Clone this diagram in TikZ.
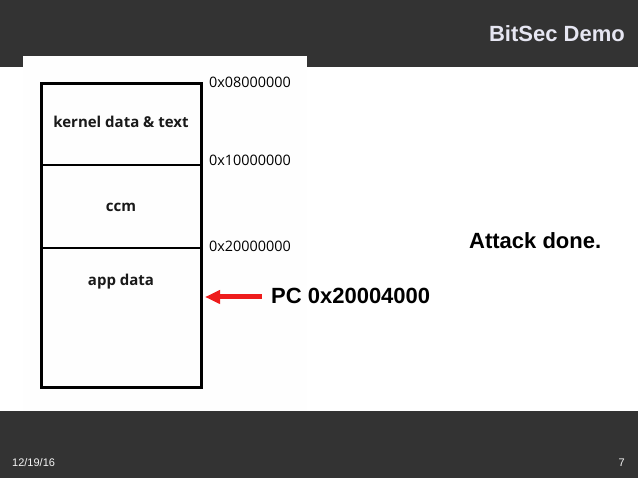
\documentclass[tikz,border=0pt]{standalone}
\usepackage{fontspec}
\setmainfont{Liberation Sans}
\newfontfamily\osans{Open Sans}
\usetikzlibrary{arrows.meta}
\definecolor{barc}{HTML}{333333}
\definecolor{titlec}{HTML}{E6E6F2}
\definecolor{arrowc}{HTML}{EE1C1C}
\tikzset{
  addr/.style={font=\osans\fontsize{14.4}{16}\selectfont, anchor=base west, inner sep=0pt, text=black},
  region/.style={font=\osans\bfseries\fontsize{15}{17}\selectfont, anchor=base, inner sep=0pt, text=black!90},
  bigtxt/.style={font=\bfseries\fontsize{22}{26}\selectfont, inner sep=0pt, text=black},
  foot/.style={font=\fontsize{11}{13}\selectfont, inner sep=0pt, text=white!92!gray},
}
\begin{document}
\begin{tikzpicture}[x=1pt,y=-1pt]
\useasboundingbox (0,0) rectangle (638,478);
\fill[white] (0,0) rectangle (638,478);
% bars
\fill[barc] (0,0) rectangle (638,67);
\fill[barc] (0,411) rectangle (638,478);
% image area
\fill[white!99.5!black] (23,56) rectangle (307,411);
% memory box
\draw[line width=1.5pt] (41,165) -- (201,165);
\draw[line width=1.5pt] (41,248) -- (201,248);
\draw[line width=3pt] (41,84) rectangle (201,388);
\node[region] (kern) at (121,128) {kernel data \& text};
\node[region] (ccm) at (121,212) {ccm};
\node[region] (app) at (121,286) {app data};
\node[addr] (a1) at (209,88) {0x08000000};
\node[addr] (a2) at (209,166) {0x10000000};
\node[addr] (a3) at (209,252) {0x20000000};
% PC label and arrow
\node[bigtxt, anchor=base west] (pc) at (271,304) {PC 0x20004000};
\coordinate (tip) at (205,297);
\draw[arrowc, line width=5pt, -{Triangle[length=15pt,width=13pt]}] (pc.west|-tip) ++(-9,0) -- (tip);
\node[bigtxt, anchor=base west] (done) at (469,249) {Attack done.};
% header/footer text
\node[bigtxt, anchor=base east, text=titlec] (title) at (625,42) {BitSec Demo};
\node[foot, anchor=base west] (date) at (12,467) {12/19/16};
\node[foot, anchor=base east] (page) at (625,467) {7};
\end{tikzpicture}
\end{document}
